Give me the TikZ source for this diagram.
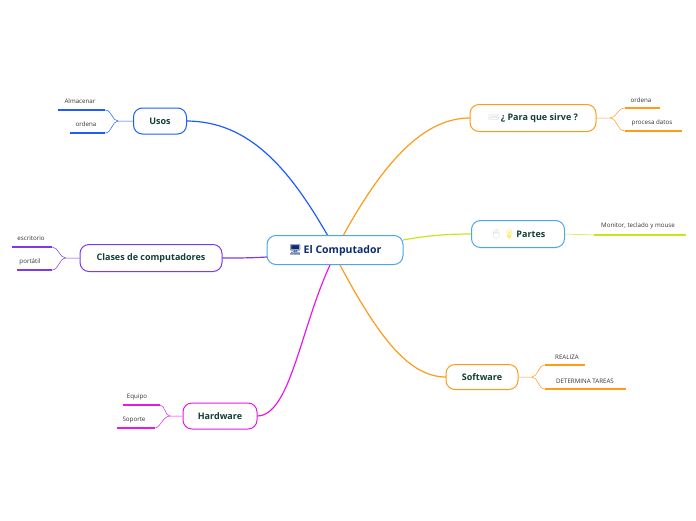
\documentclass[tikz,border=0pt]{standalone}
\usepackage{fontspec}
\setmainfont{Open Sans}
\newfontfamily\emo{Noto Emoji}
\definecolor{cblue}{HTML}{1F5CFF}
\definecolor{cpurp}{HTML}{7C3AED}
\definecolor{cmag}{HTML}{E818E8}
\definecolor{corng}{HTML}{FF9A1A}
\definecolor{clime}{HTML}{C8E619}
\definecolor{cbox}{HTML}{4AA8E8}
\definecolor{ctxt}{HTML}{123F33}
\begin{document}
\begin{tikzpicture}[x=1pt,y=-1pt,
  topic/.style={draw,rounded corners=9pt,line width=1pt,fill=white,font=\bfseries\fontsize{9}{10}\selectfont,text=ctxt,inner sep=0pt},
  leaf/.style={font=\fontsize{6.2}{7}\selectfont,text=black!80,inner sep=1pt},
  br/.style={line width=1.2pt}]
\useasboundingbox (0,0) rectangle (696,520);
% main curves
\coordinate (u1) at (328,236); \coordinate (u2) at (186,121);
\draw[br,cblue] (u1) .. controls (290,170) and (250,121) .. (u2);
\coordinate (p1) at (343,236); \coordinate (p2) at (470,118);
\draw[br,corng] (p1) .. controls (390,150) and (430,118) .. (p2);
\coordinate (l1) at (403,240); \coordinate (l2) at (472,234);
\draw[br,clime] (l1) .. controls (430,235) and (450,234) .. (l2);
\coordinate (c1) at (267,257); \coordinate (c2) at (222,258);
\draw[br,cpurp] (c1) .. controls (250,258) and (240,258) .. (c2);
\coordinate (h1) at (330,265); \coordinate (h2) at (257,416);
\draw[br,cmag] (h1) .. controls (300,330) and (290,416) .. (h2);
\coordinate (s1) at (340,265); \coordinate (s2) at (446,377);
\draw[br,corng] (s1) .. controls (380,340) and (410,377) .. (s2);
% nodes
\node[topic,draw=cbox,minimum width=136pt,minimum height=29pt,font=\bfseries\fontsize{10.5}{12}\selectfont,text=ctxt!70!blue] (root) at (335,250) {{\emo 🖥}\,El Computador};
\node[topic,draw=cblue,minimum width=53pt,minimum height=26pt] (usos) at (160,121) {Usos};
\node[topic,draw=cpurp,minimum width=142pt,minimum height=27pt] (clases) at (151,258) {Clases de computadores};
\node[topic,draw=cmag,minimum width=74pt,minimum height=26pt] (hw) at (220,416) {Hardware};
\node[topic,draw=corng,minimum width=126pt,minimum height=27pt] (para) at (533,118) {{\emo\color{black!15}⌨}\,¿ Para que sirve ?};
\node[topic,draw=cbox,minimum width=93pt,minimum height=27pt] (partes) at (518,234) {{\emo\color{black!20}🖱}\,{\emo\color{yellow!80!orange}💡}\,Partes};
\node[topic,draw=corng,minimum width=72pt,minimum height=25pt] (sw) at (482,377) {Software};
% Usos
\node[leaf] (a1) at (80,101) {Almacenar}; \coordinate (a1e) at (58,110); \coordinate (a1s) at (105,110);
\node[leaf] (a2) at (86,124) {ordena}; \coordinate (a2e) at (70,133); \coordinate (a2s) at (105,133);
\coordinate (ua) at (118,121);
\draw[cblue,line width=0.5pt] (usos.west) -- (ua) .. controls (112,121) and (112,110) .. (a1s);
\draw[cblue,line width=0.5pt] (ua) .. controls (112,121) and (112,133) .. (a2s);
\draw[cblue,line width=1.5pt] (a1e) -- (a1s); \draw[cblue,line width=1.5pt] (a2e) -- (a2s);
% Clases
\node[leaf] (b1) at (31,238) {escritorio}; \coordinate (b1e) at (12,247); \coordinate (b1s) at (52,247);
\node[leaf] (b2) at (30,262) {portátil}; \coordinate (b2e) at (17,270); \coordinate (b2s) at (52,270);
\coordinate (cb) at (66,258);
\draw[cpurp,line width=0.5pt] (clases.west) -- (cb) .. controls (59,258) and (59,247) .. (b1s);
\draw[cpurp,line width=0.5pt] (cb) .. controls (59,258) and (59,270) .. (b2s);
\draw[cpurp,line width=1.5pt] (b1e) -- (b1s); \draw[cpurp,line width=1.5pt] (b2e) -- (b2s);
% Hardware
\node[leaf] (h1n) at (137,397) {Equipo}; \coordinate (h1e) at (123,405); \coordinate (h1s) at (160,405);
\node[leaf] (h2n) at (134,420) {Soporte}; \coordinate (h2e) at (117,428); \coordinate (h2s) at (155,428);
\coordinate (hb) at (170,416);
\draw[cmag,line width=0.5pt] (hw.west) -- (hb) .. controls (165,416) and (165,405) .. (h1s);
\draw[cmag,line width=0.5pt] (hb) .. controls (163,416) and (160,428) .. (h2s);
\draw[cmag,line width=1.5pt] (h1e) -- (h1s); \draw[cmag,line width=1.5pt] (h2e) -- (h2s);
% Para
\node[leaf] (p1n) at (641,100) {ordena}; \coordinate (p1s) at (625,108); \coordinate (p1e) at (660,108);
\node[leaf] (p2n) at (652,123) {procesa datos}; \coordinate (p2s) at (625,131); \coordinate (p2e) at (682,131);
\coordinate (pb) at (610,118);
\draw[corng,line width=0.5pt] (para.east) -- (pb) .. controls (617,118) and (617,108) .. (p1s);
\draw[corng,line width=0.5pt] (pb) .. controls (617,118) and (617,131) .. (p2s);
\draw[corng,line width=1.5pt] (p1s) -- (p1e); \draw[corng,line width=1.5pt] (p2s) -- (p2e);
% Partes
\node[leaf] (m1) at (638,226) {Monitor, teclado y mouse}; \coordinate (m1s) at (594,235); \coordinate (m1e) at (686,235);
\draw[clime,line width=0.5pt] (partes.east) -- (m1s);
\draw[clime,line width=1.5pt] (m1s) -- (m1e);
% Software
\node[leaf] (s1n) at (567,357) {REALIZA}; \coordinate (s1s) at (545,365); \coordinate (s1e) at (585,365);
\node[leaf] (s2n) at (585,381) {DETERMINA TAREAS}; \coordinate (s2s) at (545,389); \coordinate (s2e) at (626,389);
\coordinate (sb) at (532,377);
\draw[corng,line width=0.5pt] (sw.east) -- (sb) .. controls (538,377) and (538,365) .. (s1s);
\draw[corng,line width=0.5pt] (sb) .. controls (538,377) and (538,389) .. (s2s);
\draw[corng,line width=1.5pt] (s1s) -- (s1e); \draw[corng,line width=1.5pt] (s2s) -- (s2e);
\end{tikzpicture}
\end{document}
